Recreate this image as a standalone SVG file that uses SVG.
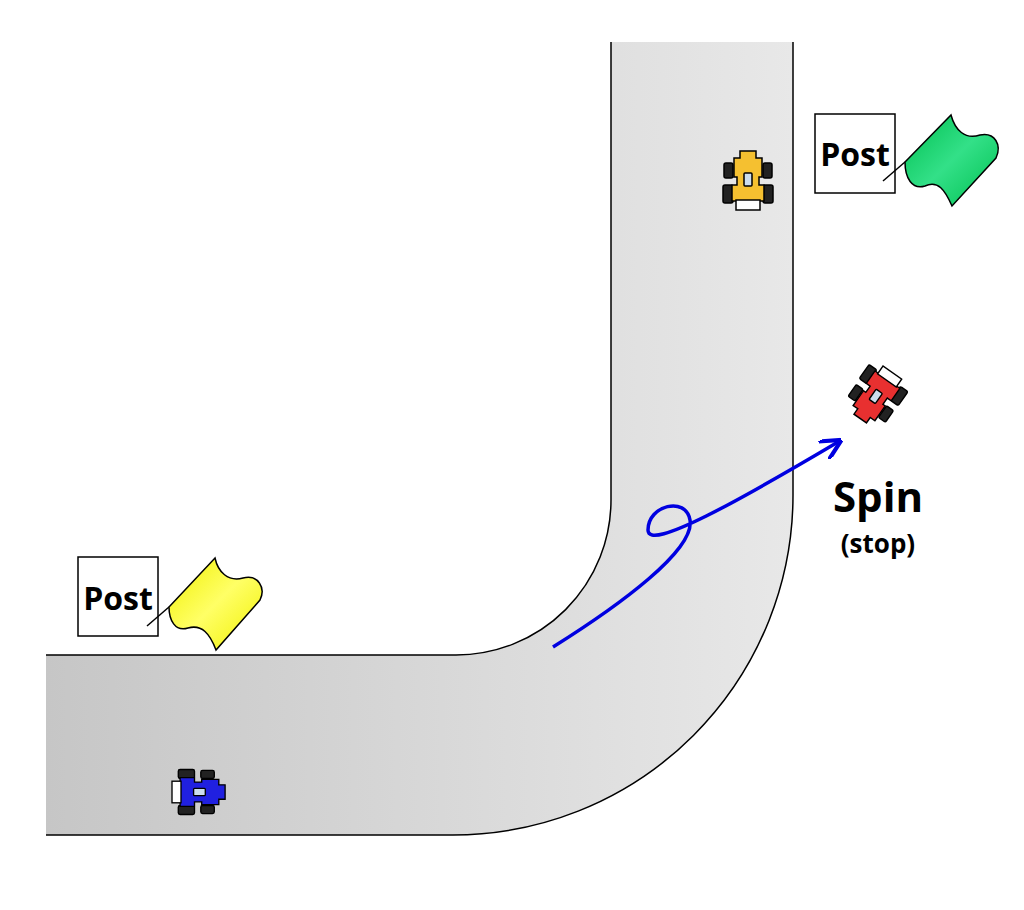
<svg xmlns="http://www.w3.org/2000/svg" width="1024" height="910" viewBox="0 0 1024 910">
<defs>
<linearGradient id="road" x1="46" y1="0" x2="793" y2="0" gradientUnits="userSpaceOnUse"><stop offset="0" stop-color="#c6c6c6"/><stop offset="1" stop-color="#e8e8e8"/></linearGradient>
<linearGradient id="gf" x1="0" y1="0" x2="1" y2="1"><stop offset="0" stop-color="#00c050"/><stop offset="0.5" stop-color="#33e088"/><stop offset="1" stop-color="#00c050"/></linearGradient>
<linearGradient id="yf" x1="0" y1="0" x2="1" y2="1"><stop offset="0" stop-color="#f0f000"/><stop offset="0.5" stop-color="#ffff66"/><stop offset="1" stop-color="#f0f000"/></linearGradient>
<marker id="ah" viewBox="0 0 10 10" refX="8" refY="5" markerWidth="6" markerHeight="6" orient="auto"><path d="M0,0 L10,5 L0,10" fill="none" stroke="#0000e0" stroke-width="2"/></marker>
<g id="car" stroke="#000" stroke-width="1.5">
<rect x="-24" y="-17" width="9" height="15" rx="2" fill="#222"/><rect x="15" y="-17" width="9" height="15" rx="2" fill="#222"/>
<rect x="-25" y="5" width="10" height="18" rx="2" fill="#222"/><rect x="15" y="5" width="10" height="18" rx="2" fill="#222"/>
<path d="M-8,-29 H8 V-22 H14 V-3 H11 V5 H16 V21 H-16 V5 H-11 V-3 H-14 V-22 H-8 Z" fill="currentColor"/>
<rect x="-12" y="20" width="24" height="10" fill="#fff"/>
<rect x="-4" y="-7" width="8" height="13" rx="1" fill="#cde"/>
</g>
</defs>
<style>.post{fill:#fff;stroke:#000;stroke-width:1.5}.pt{font-family:"Liberation Sans Narrow","Open Sans",sans-serif;font-weight:bold;font-size:32px;text-anchor:middle}.edge{fill:none;stroke:#000;stroke-width:1.5}</style>
<rect width="1024" height="910" fill="#fff"/>
<g id="track">
<path d="M46,655 L456,655 A155,155 0 0 0 611,500 L611,42 L793,42 L793,495 A340,340 0 0 1 453,835 L46,835 Z" fill="url(#road)"/>
<path class="edge" d="M46,655 L456,655 A155,155 0 0 0 611,500 L611,42"/>
<path class="edge" d="M793,42 L793,495 A340,340 0 0 1 453,835 L46,835"/>
</g>
<g id="post-green">
<rect class="post" x="815" y="114" width="80" height="79"/>
<text class="pt" x="855" y="166">Post</text>
<line x1="883" y1="181" x2="905" y2="162" stroke="#000" stroke-width="1.5"/>
<path d="M905,162 L951,115 C955,130 965,140 980,135 C995,132 1002,145 996,158 L952,206 C945,190 938,180 925,186 C912,190 905,178 905,162 Z" fill="url(#gf)" stroke="#000" stroke-width="1.5"/>
</g>
<g id="post-yellow">
<rect class="post" x="78" y="557" width="80" height="79"/>
<text class="pt" x="118" y="610">Post</text>
<line x1="147" y1="626" x2="169" y2="607" stroke="#000" stroke-width="1.5"/>
<path d="M169,607 L215,558 C218,572 228,582 243,578 C258,574 266,588 260,600 L216,650 C210,634 202,624 188,628 C175,632 169,620 169,607 Z" fill="url(#yf)" stroke="#000" stroke-width="1.5"/>
</g>
<g id="car-yellow" color="#f5c030"><use href="#car" transform="translate(748,180)"/></g>
<g id="car-blue" color="#2020e0"><use href="#car" transform="translate(199,792) rotate(90) scale(0.9)"/></g>
<g id="car-red" color="#e83030"><use href="#car" transform="translate(876,396) rotate(-145) scale(0.95)"/></g>
<g id="connectors">
<path d="M553,647 C620,605 695,550 690,520 C686,496 648,505 648,530 C648,552 740,500 838,442" fill="none" stroke="#0000e0" stroke-width="3.5" marker-end="url(#ah)"/>
</g>
<g id="label" font-family="'Liberation Sans Narrow','Open Sans',sans-serif" font-weight="bold" text-anchor="middle">
<text x="878" y="512" font-size="42">Spin</text>
<text x="878" y="553" font-size="26">(stop)</text>
</g>
</svg>
